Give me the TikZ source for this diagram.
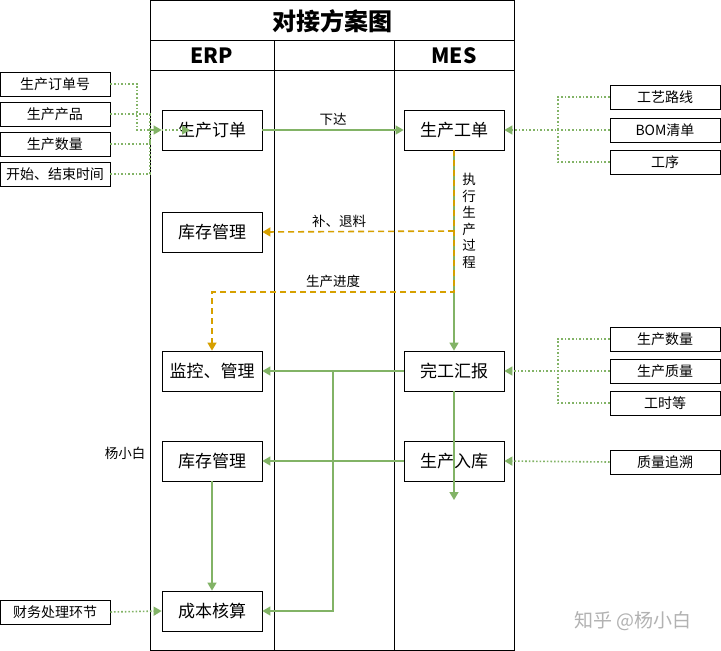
\documentclass[tikz,border=0pt]{standalone}
\usepackage{fontspec}
\setmainfont{Noto Sans CJK SC}
\usetikzlibrary{arrows.meta}
\definecolor{gr}{HTML}{82B366}
\definecolor{yl}{HTML}{D6A000}
\begin{document}
\begin{tikzpicture}[x=1pt,y=-1pt,
  box/.style={draw,thick,minimum width=100pt,minimum height=40pt,inner sep=0pt,font=\fontsize{17}{17}\selectfont},
  sbox/.style={draw,thick,minimum width=110pt,minimum height=24pt,inner sep=0pt,font=\fontsize{14}{14}\selectfont},
  gline/.style={gr,line width=1.6pt,-{Triangle[length=8pt,width=9pt]}},
  dline/.style={gr,line width=1.6pt,dotted,-{Triangle[length=8pt,width=9pt]}},
  yline/.style={yl,line width=1.6pt,dash pattern=on 6pt off 4pt,-{Triangle[length=8pt,width=9pt]}},
  lbl/.style={font=\fontsize{13.5}{14}\selectfont}]
\useasboundingbox (0,0) rectangle (721,651);
\fill[white] (0,0) rectangle (721,651);
% table
\draw[thick] (150,0) rectangle (514,650);
\draw[thick] (150,40) -- (514,40);
\draw[thick] (150,70) -- (514,70);
\draw[thick] (274,40) -- (274,650);
\draw[thick] (394,40) -- (394,650);
\node[font=\fontsize{24}{24}\selectfont\bfseries] (title) at (332,21) {对接方案图};
\node[font=\fontsize{21}{21}\selectfont\bfseries] (erp) at (212,56) {ERP};
\node[font=\fontsize{21}{21}\selectfont\bfseries] (mes) at (454,56) {MES};
% ERP boxes
\node[box] (po) at (212,130) {生产订单};
\node[box] (inv1) at (212,232) {库存管理};
\node[box] (mon) at (212,371) {监控、管理};
\node[box] (inv2) at (212,461) {库存管理};
\node[box] (cost) at (212,611) {成本核算};
% MES boxes
\node[box] (wo) at (454,130) {生产工单};
\node[box] (rep) at (454,371) {完工汇报};
\node[box] (stk) at (454,461) {生产入库};
% left small
\node[sbox] (l1) at (55,84) {生产订单号};
\node[sbox] (l2) at (55,114) {生产产品};
\node[sbox] (l3) at (55,144) {生产数量};
\node[sbox] (l4) at (55,174) {开始、结束时间};
\node[sbox] (l5) at (55,612) {财务处理环节};
% right small
\node[sbox] (r1) at (665,97) {工艺路线};
\node[sbox] (r2) at (665,130) {BOM清单};
\node[sbox] (r3) at (665,162) {工序};
\node[sbox] (r4) at (665,339) {生产数量};
\node[sbox] (r5) at (665,371) {生产质量};
\node[sbox] (r6) at (665,403) {工时等};
\node[sbox] (r7) at (665,462) {质量追溯};
% left dotted
\coordinate (j1) at (150,130);
\draw[dline] (l2.east) -| (j1) -- (po.west);
\draw[gr,line width=1.6pt,dotted] (l3.east) -| (j1);
\draw[gr,line width=1.6pt,dotted] (l4.east) -| (j1);
\coordinate (k1) at (190,130);
\draw[dline] (l1.east) -| (137,130) -- (k1);
\draw[dline] (l5.east) -- (cost.west);
% right dotted
\coordinate (j2) at (558,130);
\draw[dline] (r1.west) -| (j2) -- (wo.east);
\draw[gr,line width=1.6pt,dotted] (r2.west) -- (j2);
\draw[gr,line width=1.6pt,dotted] (r3.west) -| (j2);
\coordinate (j3) at (558,371);
\draw[dline] (r4.west) -| (j3) -- (rep.east);
\draw[gr,line width=1.6pt,dotted] (r5.west) -- (j3);
\draw[gr,line width=1.6pt,dotted] (r6.west) -| (j3);
\draw[dline] (r7.west) -- (stk.east);
% solid green
\draw[gline] (po.east) -- node[above,lbl,black]{下达} (wo.west);
\draw[gline] (wo.south) -- (rep.north);
\node[lbl,align=center,font=\fontsize{13.5}{16.5}\selectfont] (exec) at (469,221) {执\\行\\生\\产\\过\\程};
\draw[gline] (rep.west) -- (mon.east);
\coordinate (b1) at (333,371);
\draw[gline] (b1) |- (cost.east);
\draw[gline] (stk.west) -- (inv2.east);
\coordinate (e1) at (454,500);
\draw[gline] (rep.south) -- (e1);
\draw[gline] (inv2.south) -- (cost.north);
% yellow dashed
\draw[yline] (wo.south) -- (454,292) -| node[pos=0.25,above,lbl,black]{生产进度} (mon.north);
\draw[yline] (454,231) -- node[above,lbl,black,pos=0.6]{补、退料} (inv1.east);
% texts
\node[lbl] (yxb) at (125,453) {杨小白};
\node[font=\fontsize{19}{20}\selectfont,gray!60] (wm) at (633,621) {知乎 @杨小白};
\end{tikzpicture}
\end{document}
